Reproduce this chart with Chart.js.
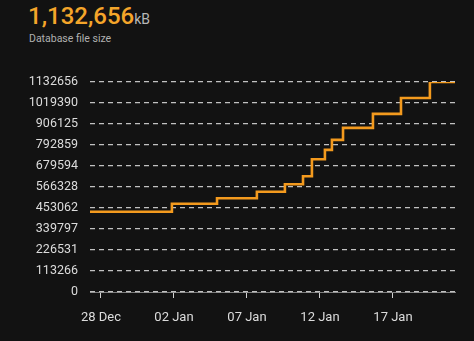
<!DOCTYPE html>
<html>
<head>
<meta charset="utf-8">
<script src="https://cdn.jsdelivr.net/npm/chart.js@4"></script>
<style>
    html, body {
        margin: 0;
        padding: 0;
        background: #121212;
        width: 474px;
        height: 341px;
        overflow: hidden;
        font-family: Roboto, sans-serif;
    }
    .header {
        position: absolute;
        left: 28px;
        top: 2px;
    }
    .big-value {
        color: #f4a52a;
        font-size: 24px;
        font-weight: 500;
        line-height: 28px;
    }
    .unit {
        color: #b8b8b8;
        font-size: 14px;
        font-weight: 400;
    }
    .subtitle {
        color: #b0b0b0;
        font-size: 10.5px;
        line-height: 12px;
        margin-left: 1px;
    }
    .chart-box {
        position: absolute;
        left: 0;
        top: 60px;
        width: 474px;
        height: 281px;
    }
</style>
</head>
<body>
<div class="header">
    <div class="big-value">1,132,656<span class="unit">kB</span></div>
    <div class="subtitle">Database file size</div>
</div>
<div class="chart-box"><canvas id="sizeChart"></canvas></div>
<script>
// Días desde el 28 Dec (0 = 28 Dec) en que cambia el tamaño
const changeDays = [-0.75, 4.86, 7.95, 10.68, 12.6, 13.84, 14.45, 15.34, 15.82, 16.58, 18.63, 20.55, 22.53, 24.25];
// Tamaño del archivo (kB) después de cada cambio
const fileSizes = [433200, 476200, 505800, 540800, 581100, 624200, 715700, 766800, 820600, 885200, 960500, 1046600, 1132656, 1132656];

// Etiquetas del eje X
const xTickDays = [0, 5, 10, 15, 20];
const xTickLabels = ['28 Dec', '02 Jan', '07 Jan', '12 Jan', '17 Jan'];

// Etiquetas del eje Y
const yTickValues = [0, 113266, 226531, 339797, 453062, 566328, 679594, 792859, 906125, 1019390, 1132656];

const points = changeDays.map((d, i) => ({ x: d, y: fileSizes[i] }));

const labelColor = '#dcdcdc';
const gridColor = 'rgba(225, 225, 225, 0.85)';

new Chart(document.getElementById('sizeChart'), {
    type: 'line',
    data: {
        datasets: [{
            data: points,
            borderColor: '#f39a1e',
            borderWidth: 2.6,
            pointRadius: 0,
            stepped: 'before',
            fill: false
        }]
    },
    options: {
        responsive: true,
        maintainAspectRatio: false,
        animation: false,
        layout: {
            padding: { top: 22, right: 19, left: 0, bottom: 0 }
        },
        plugins: {
            legend: { display: false },
            tooltip: { enabled: false }
        },
        scales: {
            x: {
                type: 'linear',
                min: -0.75,
                max: 24.25,
                afterBuildTicks: (scale) => {
                    scale.ticks = xTickDays.map(v => ({ value: v }));
                },
                afterFit: (scale) => {
                    scale.height = 49;
                },
                grid: {
                    drawOnChartArea: false,
                    drawTicks: true,
                    tickLength: 6,
                    color: 'rgba(230, 230, 230, 0.9)',
                    tickWidth: 1
                },
                border: {
                    display: true,
                    color: 'rgba(230, 230, 230, 0.5)',
                    width: 1
                },
                ticks: {
                    color: labelColor,
                    padding: 12,
                    maxRotation: 0,
                    font: { family: 'Roboto', size: 13 },
                    callback: (value) => {
                        const i = xTickDays.indexOf(value);
                        return i >= 0 ? xTickLabels[i] : '';
                    }
                }
            },
            y: {
                min: 0,
                max: 1132656,
                afterBuildTicks: (scale) => {
                    scale.ticks = yTickValues.map(v => ({ value: v }));
                },
                afterFit: (scale) => {
                    scale.width = 90;
                },
                grid: {
                    color: gridColor,
                    lineWidth: 1.2,
                    drawTicks: false
                },
                border: {
                    display: false,
                    dash: [5, 4]
                },
                ticks: {
                    color: labelColor,
                    padding: 12,
                    font: { family: 'Roboto', size: 12.5 },
                    callback: (value) => String(value)
                }
            }
        }
    }
});
</script>
</body>
</html>
